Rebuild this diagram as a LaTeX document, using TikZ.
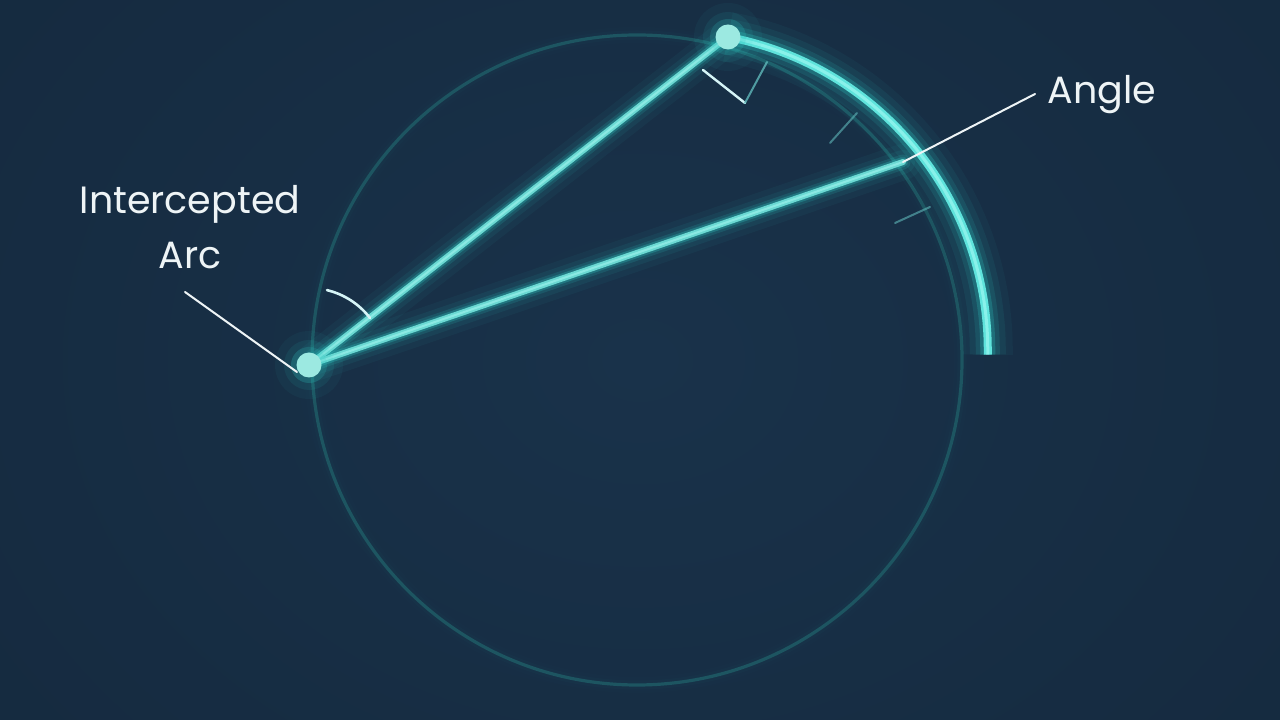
\documentclass[tikz,border=0pt]{standalone}
\usepackage{fontspec}
\newfontfamily\labf{Poppins}
\definecolor{bgc}{HTML}{172E45}
\definecolor{bgin}{HTML}{19324A}
\definecolor{bgout}{HTML}{152A3F}
\definecolor{faintc}{HTML}{1D5561}
\definecolor{glowc}{HTML}{2EC9C4}
\definecolor{corec}{HTML}{5FE3DC}
\definecolor{hic}{HTML}{B4FFF8}
\definecolor{chordc}{HTML}{6AD8D2}
\definecolor{dotc}{HTML}{9CE9E1}
\definecolor{textc}{HTML}{EEF4F6}
\definecolor{tickc}{HTML}{5FB8BA}
\tikzset{
  lab/.style={font=\labf\fontsize{38}{55}\selectfont, text=textc, inner sep=0pt},
  leader/.style={draw=textc, line width=2pt, line cap=round},
  whitetick/.style={draw=textc!90!cyan, line width=2.4pt, line cap=round},
  tealtick/.style={draw=tickc, line width=2pt, line cap=round, opacity=0.8},
}
\begin{document}
\begin{tikzpicture}[x=1pt,y=1pt]
\useasboundingbox (0,0) rectangle (1280,720);
\fill[bgc] (0,0) rectangle (1280,720);
\shade[inner color=bgin, outer color=bgout] (-200,-300) rectangle (1480,1020);

\coordinate (C) at (637,360);
\coordinate (L) at (309,355);
\coordinate (T) at (728,683);
\coordinate (E) at (903,558);

% faint full circle
\foreach \w/\o in {16/0.05,9/0.10}{
  \draw[faintc, line width=\w pt, opacity=\o] (C) circle[radius=325];
}
\draw[faintc, line width=3.2pt] (C) circle[radius=325];

% bright intercepted arc
\foreach \w/\o in {50/0.05,36/0.08,24/0.13,15/0.25}{
  \draw[glowc, line width=\w pt, opacity=\o] (T) arc[start angle=79.3, end angle=-0.75, radius=319];
}
\draw[corec, line width=8pt] (T) arc[start angle=79.3, end angle=-0.75, radius=319];
\draw[hic, line width=3pt, opacity=0.5] (T) arc[start angle=79.3, end angle=-0.75, radius=319];

% chords
\foreach \w/\o in {36/0.05,24/0.08,15/0.15,10/0.28}{
  \draw[glowc, line width=\w pt, opacity=\o, line cap=round] (L) -- (T);
  \draw[glowc, line width=\w pt, opacity=\o, line cap=round] (L) -- (E);
}
\draw[chordc, line width=6pt, line cap=round] (L) -- (T);
\draw[chordc, line width=6pt, line cap=round] (L) -- (E);
\draw[hic, line width=2pt, opacity=0.45] (L) -- (T);
\draw[hic, line width=2pt, opacity=0.45] (L) -- (E);

% vertex dots
\foreach \p in {L,T}{
  \foreach \r/\o in {34/0.05,25/0.09,18/0.16}{
    \fill[glowc, opacity=\o] (\p) circle[radius=\r];
  }
}
\node[circle, fill=dotc, minimum size=25pt, inner sep=0pt] (dotL) at (L) {};
\node[circle, fill=dotc, minimum size=25pt, inner sep=0pt] (dotT) at (T) {};

% angle marks
\draw[whitetick] (703,650) -- (745,617);
\draw[tealtick] (745,617) -- (767,658);
\draw[tealtick, opacity=0.6] (830,577) -- (857,607);
\draw[tealtick, opacity=0.6] (895,497) -- (930,513);
\draw[whitetick, line width=2.6pt] ([shift={(76.5:77)}]L) arc[start angle=76.5, end angle=37.6, radius=77];

% labels
\node[lab] (ang) at (1102,625) {Angle};
\node[lab, align=center] (ia) at (190,493) {Intercepted\\Arc};
\coordinate (angtail) at (1035,626);
\coordinate (iatail) at (185,428);
\coordinate (iatip) at (297,348);
\draw[leader] (angtail) -- (E);
\draw[leader] (iatail) -- (iatip);
\end{tikzpicture}
\end{document}
